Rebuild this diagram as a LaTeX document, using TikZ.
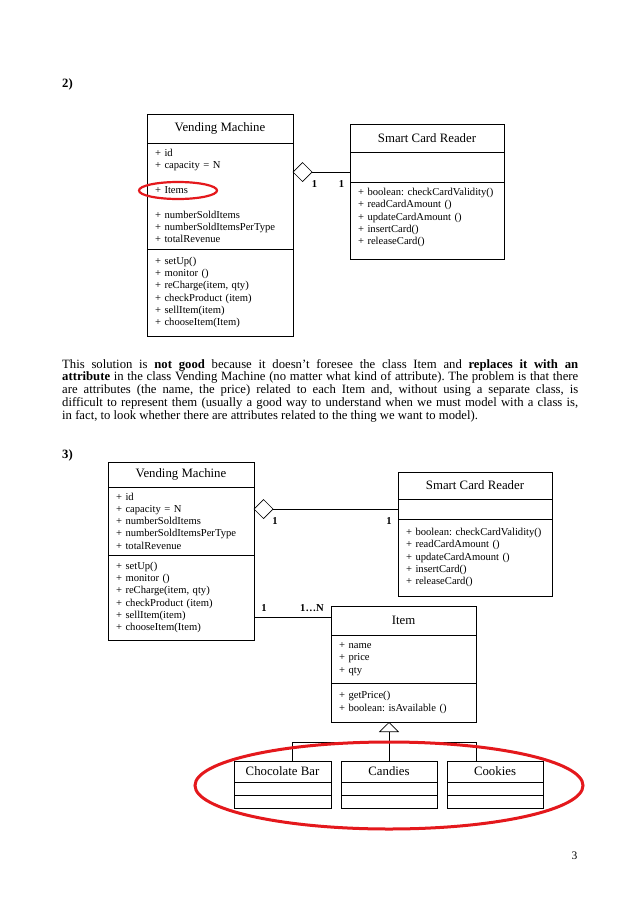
\documentclass[tikz,border=0pt]{standalone}
\usepackage{fontspec}
\setmainfont{Liberation Serif}
\usetikzlibrary{arrows.meta, positioning, shapes.geometric}
\definecolor{markred}{RGB}{228,24,28}
\frenchspacing

\begin{document}
\begin{tikzpicture}[x=1pt, y=-1pt,
    part/.style={draw, line width=0.7pt, outer sep=0pt, inner xsep=0pt, inner ysep=0pt, font=\fontsize{10.6}{12.3}\selectfont},
    ttl/.style={part, align=center, font=\fontsize{12.8}{14}\selectfont},
    lst/.style={part, align=left, inner xsep=8pt, text width=#1},
    conn/.style={line width=0.7pt},
    agg/.style={diamond, draw, line width=0.7pt, minimum width=19pt, minimum height=19pt, inner sep=0pt, outer sep=0pt},
    mult/.style={inner sep=0pt, font=\bfseries\fontsize{10.6}{12}\selectfont},
    body/.style={inner sep=0pt, font=\fontsize{12.7}{12.8}\selectfont},
    ring/.style={draw=markred, line width=2.2pt}]
    \fill[white] (0,0) rectangle (638,902);
    \useasboundingbox (0,0) rectangle (638,902);

    % 2)
    \node[body, anchor=base west, font=\bfseries\fontsize{12.7}{12.8}\selectfont] (sol2) at (62,87.5) {2)};
    \node[ttl, minimum width=146pt, minimum height=29pt, anchor=north west] (vm) at (147,114) {Vending Machine};
    \node[lst=130pt, minimum height=106pt, below=0pt of vm] (vmattr) {+ id\\+ capacity = N\\[12.3pt]+ Items\\[12.3pt]+ numberSoldItems\\+ numberSoldItemsPerType\\+ totalRevenue};
    \node[lst=130pt, minimum height=87pt, below=0pt of vmattr] (vmops) {+ setUp()\\+ monitor ()\\+ reCharge(item, qty)\\+ checkProduct (item)\\+ sellItem(item)\\+ chooseItem(Item)};
    \node[ttl, minimum width=154pt, minimum height=28pt, anchor=north west] (scr) at (350,124) {Smart Card Reader};
    \node[ttl, minimum width=154pt, minimum height=30pt, below=0pt of scr] (scrattr) {};
    \node[lst=138pt, minimum height=77pt, below=0pt of scrattr] (scrops) {+ boolean: checkCardValidity()\\+ readCardAmount ()\\+ updateCardAmount ()\\+ insertCard()\\+ releaseCard()\par\kern6pt};
    \node[agg, anchor=west] (vmagg) at (293,172) {};
    \draw[conn] (vmagg.east) -- (vmagg.east -| scrattr.west);
    \node[mult] (m1) at (314.5,184) {1};
    \node[mult] (m2) at (341.5,184) {1};
    \draw[ring] (178,190.5) ellipse [x radius=39pt, y radius=8.5pt];

    \node[body, anchor=north west, text width=516pt, align=justify] (txt) at (62,359) {\strut This solution is \textbf{not good} because it doesn’t foresee the class Item and \textbf{replaces it with an}\linebreak \textbf{attribute} in the class Vending Machine (no matter what kind of attribute). The problem is that there\linebreak are attributes (the name, the price) related to each Item and, without using a separate class, is\linebreak difficult to represent them (usually a good way to understand when we must model with a class is,\linebreak in fact, to look whether there are attributes related to the thing we want to model).};

    % 3)
    \node[body, anchor=base west, font=\bfseries\fontsize{12.7}{12.8}\selectfont] (sol3) at (62,458) {3)};
    \node[ttl, minimum width=146pt, minimum height=25pt, anchor=north west] (vm3) at (108,462) {Vending Machine};
    \node[lst=130pt, minimum height=68pt, below=0pt of vm3] (vm3attr) {+ id\\+ capacity = N\\+ numberSoldItems\\+ numberSoldItemsPerType\\+ totalRevenue};
    \node[lst=130pt, minimum height=85pt, below=0pt of vm3attr] (vm3ops) {+ setUp()\\+ monitor ()\\+ reCharge(item, qty)\\+ checkProduct (item)\\+ sellItem(item)\\+ chooseItem(Item)};
    \node[ttl, minimum width=154pt, minimum height=27pt, anchor=north west] (scr3) at (398,472) {Smart Card Reader};
    \node[ttl, minimum width=154pt, minimum height=20pt, below=0pt of scr3] (scr3attr) {};
    \node[lst=138pt, minimum height=77pt, below=0pt of scr3attr] (scr3ops) {+ boolean: checkCardValidity()\\+ readCardAmount ()\\+ updateCardAmount ()\\+ insertCard()\\+ releaseCard()};
    \node[agg, anchor=west] (vm3agg) at (254,509) {};
    \draw[conn] (vm3agg.east) -- (vm3agg.east -| scr3attr.west);
    \node[mult] (m3) at (275,521) {1};
    \node[mult] (m4) at (389,521) {1};

    \node[ttl, minimum width=145pt, minimum height=29pt, anchor=north west] (item) at (331,606) {Item};
    \node[lst=129pt, minimum height=48pt, below=0pt of item] (itemattr) {+ name\\+ price\\+ qty};
    \node[lst=129pt, minimum height=39pt, below=0pt of itemattr] (itemops) {+ getPrice()\\+ boolean: isAvailable ()};
    \coordinate (vmit) at (254,617);
    \draw[conn] (vmit) -- (vmit -| item.west);
    \node[mult] (m5) at (264,608) {1};
    \node[mult] (m6) at (312,608) {1…N};

    \node[ttl, minimum width=97pt, minimum height=21pt, anchor=north west] (choc) at (234,761) {Chocolate Bar};
    \node[ttl, minimum width=97pt, minimum height=13pt, below=0pt of choc] (chocattr) {};
    \node[ttl, minimum width=97pt, minimum height=13pt, below=0pt of chocattr] (chocops) {};
    \node[ttl, minimum width=96pt, minimum height=21pt, anchor=north west] (cand) at (341,761) {Candies};
    \node[ttl, minimum width=96pt, minimum height=13pt, below=0pt of cand] (candattr) {};
    \node[ttl, minimum width=96pt, minimum height=13pt, below=0pt of candattr] (candops) {};
    \node[ttl, minimum width=96pt, minimum height=21pt, anchor=north west] (cook) at (447,761) {Cookies};
    \node[ttl, minimum width=96pt, minimum height=13pt, below=0pt of cook] (cookattr) {};
    \node[ttl, minimum width=96pt, minimum height=13pt, below=0pt of cookattr] (cookops) {};
    \coordinate (genl) at (292,742);
    \coordinate (genr) at (476,742);
    \draw[conn] (genl |- choc.north) -- (genl) -- (genr) -- (genr |- cook.north);
    \draw[conn, -{Triangle[open, length=10pt, width=20pt]}] (cand.north) -- (cand.north |- itemops.south);
    \draw[ring, line width=3pt] (389,785.5) ellipse [x radius=194pt, y radius=43.5pt];

    \node[body, anchor=base west, font=\fontsize{11.5}{12}\selectfont] (page) at (571.5,859) {3};
\end{tikzpicture}
\end{document}
